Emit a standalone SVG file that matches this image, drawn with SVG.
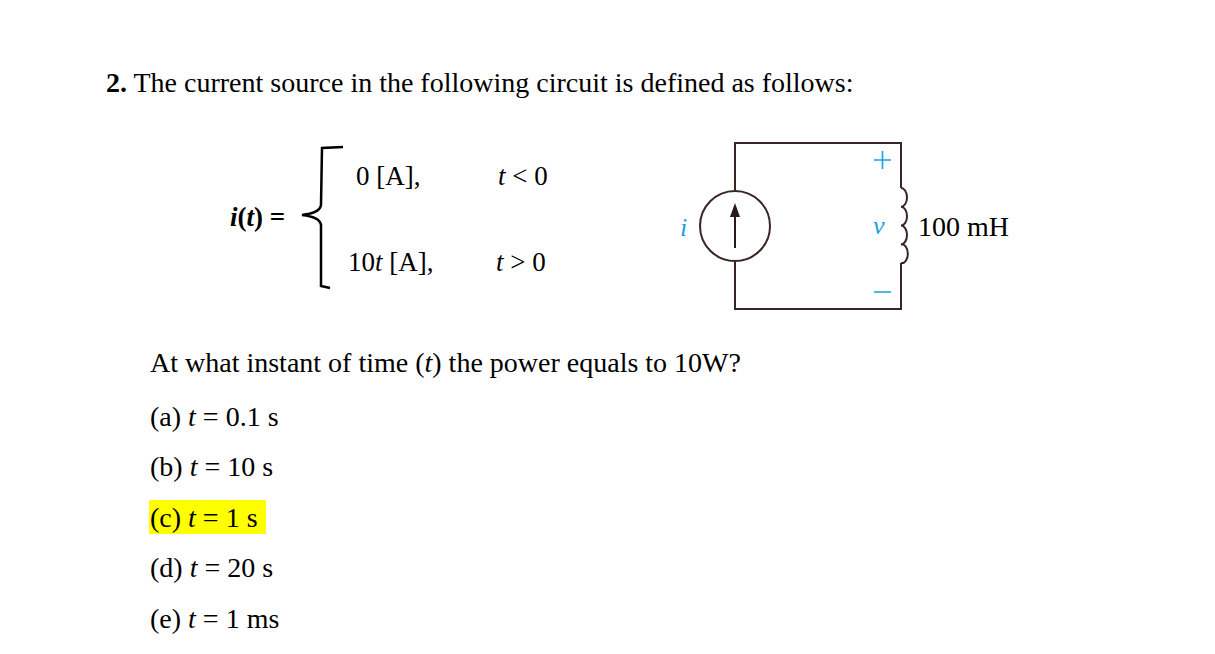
<svg xmlns="http://www.w3.org/2000/svg" width="1215" height="654" viewBox="0 0 1215 654">
<style>
text{font-family:"Liberation Serif",serif;fill:#000}
.t{font-size:28px}
.m{font-size:27px}
.w{fill:none;stroke:#3a2424;stroke-width:2}
.b{fill:#1aa0dc}
</style>
<rect width="1215" height="654" fill="#fff"/>
<text class="t" x="106" y="92"><tspan font-weight="bold">2.</tspan>  The current source in the following circuit is defined as follows:</text>
<g id="equation">
<text class="m" x="230" y="226" font-weight="bold"><tspan font-style="italic">i</tspan>(<tspan font-style="italic">t</tspan>) =</text>
<path d="M343,147 L322,148 L321,205 Q320,213 302,215 Q320,217 321,225 L321,286 L330,288" fill="none" stroke="#000" stroke-width="2.5"/>
<text class="m" x="356" y="185">0   [A],</text>
<text class="m" x="498" y="185"><tspan font-style="italic">t</tspan> &lt; 0</text>
<text class="m" x="348" y="271">10<tspan font-style="italic">t</tspan>  [A],</text>
<text class="m" x="496" y="271"><tspan font-style="italic">t</tspan> &gt; 0</text>
</g>
<g id="circuit">
<path class="w" d="M735,191 V143 H901 V188 M901,263 V309 H735 V261"/>
<circle class="w" cx="735" cy="226" r="35"/>
<line x1="735" y1="248" x2="735" y2="214" stroke="#2a1a1a" stroke-width="2"/>
<polygon points="735,203 730,217 740,217" fill="#2a1a1a"/>
<path class="w" d="M901,188 a6,9.4 0 1 1 0,18.8 a6,9.4 0 1 1 0,18.8 a6,9.4 0 1 1 0,18.8 a6,9.4 0 1 1 0,18.6"/>
<text x="680" y="236" font-size="26" font-style="italic" class="b" style="fill:#1aa0dc">i</text>
<text x="873" y="234" font-size="26" font-style="italic" style="fill:#1aa0dc">v</text>
<text x="918" y="236" font-size="28">100 mH</text>
<path d="M874,160 H891 M882.5,151 V169 M874,292 H891" stroke="#1aa0dc" stroke-width="1.6"/>
</g>
<text class="t" x="150" y="372">At what instant of time (<tspan font-style="italic">t</tspan>) the power equals to 10W?</text>
<g id="options" class="t">
<text x="150" y="426">(a)  <tspan font-style="italic">t</tspan> = 0.1 s</text>
<text x="150" y="476">(b)  <tspan font-style="italic">t</tspan> = 10 s</text>
<rect x="149" y="500" width="117" height="34" fill="#ffff00"/>
<text x="150" y="527">(c)  <tspan font-style="italic">t</tspan> = 1 s</text>
<text x="150" y="577">(d)  <tspan font-style="italic">t</tspan> = 20 s</text>
<text x="150" y="628">(e)  <tspan font-style="italic">t</tspan> = 1 ms</text>
</g>
</svg>
